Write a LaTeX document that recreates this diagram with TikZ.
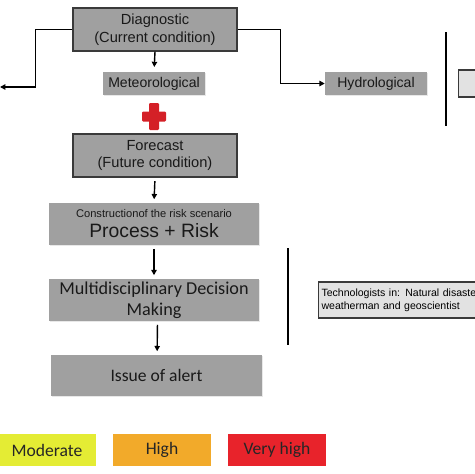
\documentclass[tikz,border=0pt]{standalone}
\usepackage{fontspec}
\setmainfont{Liberation Sans}
\newfontfamily\calibri{Carlito}
\usetikzlibrary{arrows.meta, shadows}
\definecolor{boxgray}{HTML}{A0A0A0}
\definecolor{lightbox}{HTML}{E2E2E2}
\definecolor{edgegray}{HTML}{3A3A3A}
\definecolor{plusred}{HTML}{D42027}
\definecolor{moderate}{HTML}{E4EC34}
\definecolor{high}{HTML}{F2AA2A}
\definecolor{veryhigh}{HTML}{E8232B}
\tikzset{
	tri/.tip={Triangle[length=4.5pt, width=4.5pt]},
	% gray process boxes
	stage/.style={
		fill=boxgray, inner sep=0pt, align=center, text=black!90,
		drop shadow={opacity=0.18, shadow xshift=0.6pt, shadow yshift=-1.2pt}
	},
	framed/.style={stage, draw=edgegray, line width=1pt},
	note/.style={fill=lightbox, draw=edgegray, line width=0.9pt, inner sep=2.5pt},
	level/.style={inner sep=0pt, minimum width=2.94cm, minimum height=0.96cm,
		font=\calibri\fontsize{15}{17}\selectfont, text=black!85},
	flow/.style={-tri, line width=1.2pt, shorten <=3pt, shorten >=3pt},
	branch/.style={-tri, line width=1.2pt}
}

\begin{document}
\begin{tikzpicture}[x=0.03cm, y=-0.03cm]
		\useasboundingbox (0,0) rectangle (474,474);
		
		% Upper part
		\node[framed, minimum width=4.92cm, minimum height=1.29cm,
			font=\fontsize{12.5}{15.4}\selectfont]
			(diag) at (155,29.5) {Diagnostic\\(Current condition)};
		\node[stage, minimum width=3.06cm, minimum height=0.69cm,
			font=\fontsize{12}{14}\selectfont]
			(meteo) at (154,83.5) {Meteorological};
		\node[stage, minimum width=3.06cm, minimum height=0.69cm,
			font=\fontsize{12}{14}\selectfont]
			(hydro) at (376,83.5) {Hydrological};
		\node[note, anchor=west, minimum width=2cm, minimum height=0.81cm]
			(extra) at (458,83.5) {};
		
		\coordinate (leftend) at (0,87);
		\draw[branch] (diag.west) -- ++(-37,0) |- (leftend);
		\draw[branch] (diag.east) -- ++(43,0) |- (hydro.west);
		\draw[flow, shorten <=0pt, shorten >=4pt] (diag.south) -- (meteo.north);
		
		\coordinate (sepA) at (446,32);
		\coordinate (sepB) at (446,126);
		\draw[line width=1.4pt] (sepA) -- (sepB);
		
		% red plus
		\fill[plusred, rounded corners=1pt] (149,103) rectangle (159,130);
		\fill[plusred, rounded corners=1pt] (142,111.5) rectangle (166,121.5);
		
		% Lower part
		\node[framed, minimum width=4.92cm, minimum height=1.29cm,
			font=\fontsize{12.5}{14.5}\selectfont]
			(fore) at (155,155.5) {Forecast\\(Future condition)};
		\node[stage, minimum width=6.3cm, minimum height=1.26cm]
			(scen) at (154,224)
			{{\fontsize{9.5}{11}\selectfont Constructionof the risk scenario}\\[4pt]
			 {\fontsize{16.5}{19}\selectfont Process + Risk}};
		\node[stage, minimum width=6.3cm, minimum height=1.26cm,
			font=\calibri\fontsize{15.5}{18}\selectfont]
			(multi) at (154,300) {Multidisciplinary Decision\\Making};
		\node[stage, minimum width=6.33cm, minimum height=1.23cm,
			font=\calibri\fontsize{15}{17}\selectfont]
			(alert) at (156.5,375.5) {Issue of alert};
		\node[note, anchor=west, minimum width=6cm, minimum height=1.08cm,
			text width=5.82cm, align=left, font=\fontsize{9}{11}\selectfont]
			(tech) at (318,300) {Technologists in: Natural disasters,\\weatherman and geoscientist};
		
		\draw[flow] (fore.south) -- (scen.north);
		\draw[flow] (scen.south) -- (multi.north);
		\draw[flow] ([xshift=3pt]multi.south) -- ([xshift=0.5pt]alert.north);
		
		\coordinate (sepC) at (288,248);
		\coordinate (sepD) at (288,345);
		\draw[line width=1.4pt] (sepC) -- (sepD);
		
		% Alert levels
		\node[level, fill=moderate] (mod) at (47,450) {Moderate};
		\node[level, fill=high] (hig) at (162,450) {High};
		\node[level, fill=veryhigh] (vhi) at (277,450) {Very high};
\end{tikzpicture}
\end{document}
